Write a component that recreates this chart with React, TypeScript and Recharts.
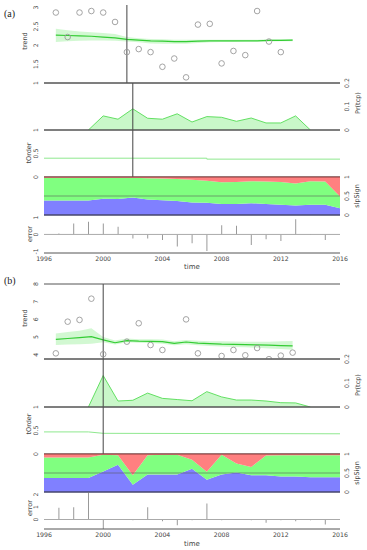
import React from "react";
import { Area, Bar, ComposedChart, Line, ReferenceLine, Scatter, XAxis, YAxis } from "recharts";

const FONT = "'DejaVu Sans', sans-serif";
const yearTicks = [1996, 1998, 2000, 2002, 2004, 2006, 2008, 2010, 2012, 2014, 2016];

// time steps of the fitted trend (as drawn in the trend panels)
const fitTimes = [1996.8, 1997.6, 1998.4, 1999.2, 2000, 2000.8, 2001.6, 2002.4, 2003.2, 2004, 2004.8, 2005.6, 2006.4, 2007.2, 2008, 2008.8, 2009.6, 2010.4, 2011.2, 2012, 2012.8];
const prYears = [1999, 2000, 2001, 2002, 2003, 2004, 2005, 2006, 2007, 2008, 2009, 2010, 2011, 2012, 2013, 2014];
const signYears = [1996, 1997, 1998, 1999, 2000, 2001, 2002, 2003, 2004, 2005, 2006, 2007, 2008, 2009, 2010, 2011, 2012, 2013, 2014, 2015, 2016];
const errYears = [1997, 1998, 1999, 2000, 2001, 2002, 2003, 2004, 2005, 2006, 2007, 2008, 2009, 2010, 2011, 2012, 2013, 2014, 2015];

// ---- panel (a)
const trendMeanA = [2.27, 2.26, 2.25, 2.24, 2.22, 2.2, 2.16, 2.14, 2.12, 2.11, 2.1, 2.1, 2.11, 2.12, 2.12, 2.12, 2.12, 2.12, 2.13, 2.13, 2.14];
const trendLoA = [2.09, 2.11, 2.12, 2.13, 2.13, 2.12, 2.1, 2.08, 2.05, 2.04, 2.04, 2.04, 2.06, 2.08, 2.09, 2.09, 2.1, 2.1, 2.1, 2.11, 2.11];
const trendHiA = [2.44, 2.4, 2.37, 2.35, 2.33, 2.3, 2.22, 2.19, 2.17, 2.16, 2.15, 2.15, 2.15, 2.15, 2.15, 2.15, 2.15, 2.15, 2.16, 2.16, 2.17];
const obsTimesA = [1996.8, 1997.6, 1998.4, 1999.2, 2000, 2000.8, 2001.6, 2002.4, 2003.2, 2004, 2004.8, 2005.6, 2006.4, 2007.2, 2008, 2008.8, 2009.6, 2010.4, 2011.2, 2012];
const obsA = [2.87, 2.22, 2.87, 2.91, 2.87, 2.62, 1.82, 1.9, 1.82, 1.43, 1.65, 1.15, 2.55, 2.57, 1.52, 1.85, 1.74, 2.91, 2.1, 1.82];
const cpTrendA = 2001.6;
const cpA = 2002;
const prA = [0, 0.06, 0.046, 0.09, 0.05, 0.046, 0.069, 0.034, 0.057, 0.054, 0.037, 0.051, 0.03, 0.03, 0.06, 0];
const orderYearsA = [1996, 2007, 2016];
const orderA = [0.4, 0.38, 0.38];
const posA = [0.38, 0.38, 0.38, 0.38, 0.43, 0.42, 0.46, 0.41, 0.39, 0.37, 0.33, 0.32, 0.29, 0.29, 0.31, 0.29, 0.27, 0.25, 0.27, 0.27, 0.18];
const zeroA = [0.6, 0.6, 0.6, 0.6, 0.55, 0.56, 0.52, 0.56, 0.57, 0.58, 0.6, 0.58, 0.57, 0.58, 0.58, 0.59, 0.6, 0.58, 0.62, 0.61, 0.31];
const negA = [0.02, 0.02, 0.02, 0.02, 0.02, 0.02, 0.02, 0.03, 0.04, 0.05, 0.07, 0.1, 0.14, 0.13, 0.11, 0.12, 0.13, 0.17, 0.11, 0.12, 0.51];
const errA = [0.05, 0.65, 0.75, 0.65, 0.45, -0.24, -0.24, -0.33, -0.72, -0.53, -0.98, 0.55, 0.51, -0.63, -0.28, -0.39, 0.9, 0.02, -0.33];

// ---- panel (b)
const trendMeanB = [4.87, 4.92, 4.97, 5.02, 4.84, 4.68, 4.8, 4.77, 4.76, 4.74, 4.64, 4.72, 4.66, 4.63, 4.6, 4.59, 4.57, 4.56, 4.54, 4.52, 4.5];
const trendLoB = [4.55, 4.58, 4.6, 4.62, 4.7, 4.58, 4.7, 4.68, 4.66, 4.62, 4.54, 4.6, 4.54, 4.5, 4.46, 4.44, 4.42, 4.4, 4.36, 4.32, 4.28];
const trendHiB = [5.2, 5.28, 5.36, 5.5, 5.0, 4.8, 4.92, 4.88, 4.87, 4.86, 4.76, 4.84, 4.79, 4.77, 4.76, 4.75, 4.74, 4.74, 4.74, 4.76, 4.78];
const obsTimesB = [1996.8, 1997.6, 1998.4, 1999.2, 2000, 2001.6, 2002.4, 2003.2, 2004, 2005.6, 2006.4, 2008, 2008.8, 2009.6, 2010.4, 2011.2, 2012, 2012.8];
const obsB = [4.08, 5.87, 5.97, 7.17, 4.03, 4.74, 5.78, 4.55, 4.27, 6.0, 4.08, 3.93, 4.27, 3.97, 4.38, 3.75, 3.95, 4.12];
const cpB = 2000;
const prB = [0, 0.131, 0.025, 0.028, 0.058, 0.036, 0.031, 0.026, 0.064, 0.042, 0.029, 0.029, 0.025, 0.018, 0.017, 0];
const orderYearsB = [1996, 1999, 2000, 2016];
const orderB = [0.47, 0.47, 0.44, 0.43];
const posB = [0.37, 0.37, 0.37, 0.37, 0.54, 0.72, 0.19, 0.46, 0.46, 0.46, 0.61, 0.32, 0.46, 0.51, 0.44, 0.44, 0.41, 0.41, 0.39, 0.39, 0.39];
const zeroB = [0.54, 0.54, 0.54, 0.54, 0.44, 0.25, 0.25, 0.51, 0.52, 0.52, 0.24, 0.21, 0.52, 0.24, 0.22, 0.52, 0.56, 0.56, 0.58, 0.58, 0.58];
const negB = [0.09, 0.09, 0.09, 0.09, 0.02, 0.03, 0.56, 0.03, 0.02, 0.02, 0.15, 0.47, 0.02, 0.25, 0.34, 0.04, 0.03, 0.03, 0.03, 0.03, 0.03];
const errB = [0.94, 0.98, 2.2, -0.75, 0.03, -0.05, 0.98, -0.14, -0.46, -0.05, 1.28, -0.05, 0.03, -0.05, -0.26, -0.05, -0.14, -0.05, -0.4];

const fitRows = (mean: number[], lo: number[], hi: number[]) =>
  fitTimes.map((t, i) => ({ t, mean: mean[i], band: [lo[i], hi[i]] }));
const pairRows = (ts: number[], vs: number[]) => ts.map((t, i) => ({ t, v: vs[i] }));
const signRows = (pos: number[], zero: number[], neg: number[]) =>
  signYears.map((t, i) => ({ t, pos: pos[i], zero: zero[i], neg: neg[i] }));

const LeftTick = (p: any) => (
  <text transform={`translate(38,${p.y}) rotate(-90)`} textAnchor="middle" fontSize={6.2} fill="#444" fontFamily={FONT}>
    {p.payload.value}
  </text>
);
const RightTick = (p: any) => (
  <text transform={`translate(349,${p.y}) rotate(-90)`} textAnchor="middle" fontSize={6.2} fill="#444" fontFamily={FONT}>
    {p.payload.value}
  </text>
);
const YearTick = (p: any) => (
  <text x={p.x} y={p.y} dy="0.71em" textAnchor="middle" fontSize={6.2} fill="#444" fontFamily={FONT}>
    {p.payload.value}
  </text>
);
const Ring = (p: any) => <circle cx={p.cx} cy={p.cy} r={2.8} fill="none" stroke="#9a9a9a" strokeWidth={0.9} />;

type PanelProps = {
  top: number;
  height: number;
  domain: [number, number];
  ticks: number[];
  side: "left" | "right";
  data: any[];
  children: React.ReactNode;
  topAxis?: boolean;
  timeLabels?: boolean;
  topColor?: string;
  bottomColor?: string;
};

function Panel({ top, height, domain, ticks, side, data, children, topAxis = true, timeLabels = false, topColor = "#555", bottomColor = "#555" }: PanelProps) {
  const pad = 6;
  const labelH = timeLabels ? 12 : 0;
  return (
    <div style={{ position: "absolute", left: 0, top: top - pad }}>
      <ComposedChart
        width={367}
        height={height + 2 * pad + labelH}
        data={data}
        margin={{ top: pad, bottom: pad, left: side === "left" ? 43 : 44, right: side === "right" ? 26 : 27 }}
      >
        <XAxis dataKey="t" type="number" domain={[1996, 2016]} ticks={yearTicks} orientation="bottom" mirror tick={false} tickSize={4} stroke={bottomColor} allowDataOverflow />
        {topAxis && (
          <XAxis xAxisId="top" dataKey="t" type="number" domain={[1996, 2016]} ticks={yearTicks} orientation="top" mirror tick={false} tickSize={4} stroke={topColor} allowDataOverflow />
        )}
        {timeLabels && (
          <XAxis xAxisId="lab" dataKey="t" type="number" domain={[1996, 2016]} ticks={yearTicks} orientation="bottom" height={labelH} axisLine={false} tickLine={false} tickSize={0} tickMargin={4} tick={YearTick} allowDataOverflow />
        )}
        <YAxis
          type="number"
          domain={domain}
          ticks={ticks}
          orientation={side}
          width={1}
          interval={0}
          axisLine={false}
          tickLine={false}
          tick={side === "left" ? LeftTick : RightTick}
          allowDataOverflow
        />
        {children}
      </ComposedChart>
    </div>
  );
}

const bandFill = "#33dd33";
const lineGreen = "#33cc33";

function Titles() {
  const t = (x: number, y: number, s: string, size = 6.5) => (
    <text transform={`translate(${x},${y}) rotate(-90)`} textAnchor="middle" fontSize={size} fill="#444" fontFamily={FONT}>
      {s}
    </text>
  );
  return (
    <svg width={367} height={550} style={{ position: "absolute", left: 0, top: 0, pointerEvents: "none" }}>
      <text x={4} y={17} fontSize={10} fontFamily="'Liberation Serif', serif" fill="#222">(a)</text>
      {t(27, 41, "trend")}
      {t(31, 153, "tOrder")}
      {t(32, 234, "error")}
      {t(360, 103, "Pr(tcp)")}
      {t(359, 196, "slpSign")}
      <text x={192} y={269} textAnchor="middle" fontSize={7} fill="#444" fontFamily={FONT}>time</text>

      <text x={4} y={284} fontSize={10} fontFamily="'Liberation Serif', serif" fill="#222">(b)</text>
      {t(27, 318, "trend")}
      {t(31, 424, "tOrder")}
      {t(32, 508, "error")}
      {t(360, 385, "Pr(tcp)")}
      {t(359, 473, "slpSign")}
      <text x={192} y={546} textAnchor="middle" fontSize={7} fill="#444" fontFamily={FONT}>time</text>
    </svg>
  );
}

export default function App() {
  return (
    <div style={{ position: "absolute", left: 0, top: 0, width: 367, height: 550, background: "#fff" }}>
      {/* ---------- (a) ---------- */}
      <Panel top={5} height={78} domain={[1, 3.07]} ticks={[1, 1.5, 2, 2.5, 3]} side="left" data={fitRows(trendMeanA, trendLoA, trendHiA)} topAxis={false}>
        <Area dataKey="band" type="linear" stroke="none" fill={bandFill} fillOpacity={0.22} isAnimationActive={false} />
        <Line dataKey="mean" type="linear" stroke={lineGreen} strokeWidth={1.2} dot={false} isAnimationActive={false} />
        <Scatter data={pairRows(obsTimesA, obsA)} dataKey="v" shape={Ring} isAnimationActive={false} />
        <ReferenceLine x={cpTrendA} stroke="#444" />
      </Panel>
      <Panel top={83} height={47} domain={[0, 0.2]} ticks={[0, 0.1, 0.2]} side="right" data={pairRows(prYears, prA)}>
        <Area dataKey="v" type="linear" stroke="#55dd55" strokeWidth={0.9} fill="#c9f7c9" fillOpacity={1} isAnimationActive={false} />
        <ReferenceLine x={cpA} stroke="#444" />
      </Panel>
      <Panel top={130} height={47} domain={[0, 1]} ticks={[0, 0.5, 1]} side="left" data={pairRows(orderYearsA, orderA)}>
        <Line dataKey="v" type="stepAfter" stroke="#8fe88f" strokeWidth={1} dot={false} isAnimationActive={false} />
        <ReferenceLine x={cpA} stroke="#444" />
      </Panel>
      <Panel top={177} height={38} domain={[0, 1]} ticks={[0, 0.5, 1]} side="right" data={signRows(posA, zeroA, negA)} topColor="#8a3a3a" bottomColor="#2a2aa0">
        <Area dataKey="pos" stackId="s" type="linear" stroke="none" fill="#8080ff" fillOpacity={1} isAnimationActive={false} />
        <Area dataKey="zero" stackId="s" type="linear" stroke="none" fill="#80ff80" fillOpacity={1} isAnimationActive={false} />
        <Area dataKey="neg" stackId="s" type="linear" stroke="none" fill="#ff8080" fillOpacity={1} isAnimationActive={false} />
        <ReferenceLine y={0.5} stroke="#555" strokeOpacity={0.55} />
      </Panel>
      <Panel top={215} height={38} domain={[-1.1, 1.15]} ticks={[-1, 0, 1]} side="left" data={pairRows(errYears, errA)} timeLabels>
        <ReferenceLine y={0} stroke="#aaa" />
        <Bar dataKey="v" barSize={1} fill="#999" isAnimationActive={false} />
      </Panel>

      {/* ---------- (b) ---------- */}
      <Panel top={284} height={75} domain={[3.76, 8]} ticks={[4, 5, 6, 7, 8]} side="left" data={fitRows(trendMeanB, trendLoB, trendHiB)}>
        <Area dataKey="band" type="linear" stroke="none" fill={bandFill} fillOpacity={0.22} isAnimationActive={false} />
        <Line dataKey="mean" type="linear" stroke={lineGreen} strokeWidth={1.2} dot={false} isAnimationActive={false} />
        <Scatter data={pairRows(obsTimesB, obsB)} dataKey="v" shape={Ring} isAnimationActive={false} />
        <ReferenceLine x={cpB} stroke="#444" />
      </Panel>
      <Panel top={359} height={48} domain={[0, 0.2]} ticks={[0, 0.1, 0.2]} side="right" data={pairRows(prYears, prB)}>
        <Area dataKey="v" type="linear" stroke="#55dd55" strokeWidth={0.9} fill="#c9f7c9" fillOpacity={1} isAnimationActive={false} />
        <ReferenceLine x={cpB} stroke="#444" />
      </Panel>
      <Panel top={407} height={47} domain={[0, 1]} ticks={[0, 0.5, 1]} side="left" data={pairRows(orderYearsB, orderB)}>
        <Line dataKey="v" type="linear" stroke="#8fe88f" strokeWidth={1} dot={false} isAnimationActive={false} />
        <ReferenceLine x={cpB} stroke="#444" />
      </Panel>
      <Panel top={454} height={38} domain={[0, 1]} ticks={[0, 0.5, 1]} side="right" data={signRows(posB, zeroB, negB)} topColor="#8a3a3a" bottomColor="#2a2aa0">
        <Area dataKey="pos" stackId="s" type="linear" stroke="none" fill="#8080ff" fillOpacity={1} isAnimationActive={false} />
        <Area dataKey="zero" stackId="s" type="linear" stroke="none" fill="#80ff80" fillOpacity={1} isAnimationActive={false} />
        <Area dataKey="neg" stackId="s" type="linear" stroke="none" fill="#ff8080" fillOpacity={1} isAnimationActive={false} />
        <ReferenceLine y={0.5} stroke="#555" strokeOpacity={0.55} />
      </Panel>
      <Panel top={492} height={37} domain={[-0.76, 2.2]} ticks={[0, 1, 2]} side="left" data={pairRows(errYears, errB)} timeLabels>
        <ReferenceLine y={0} stroke="#aaa" />
        <Bar dataKey="v" barSize={1} fill="#999" isAnimationActive={false} />
      </Panel>

      <Titles />
    </div>
  );
}
